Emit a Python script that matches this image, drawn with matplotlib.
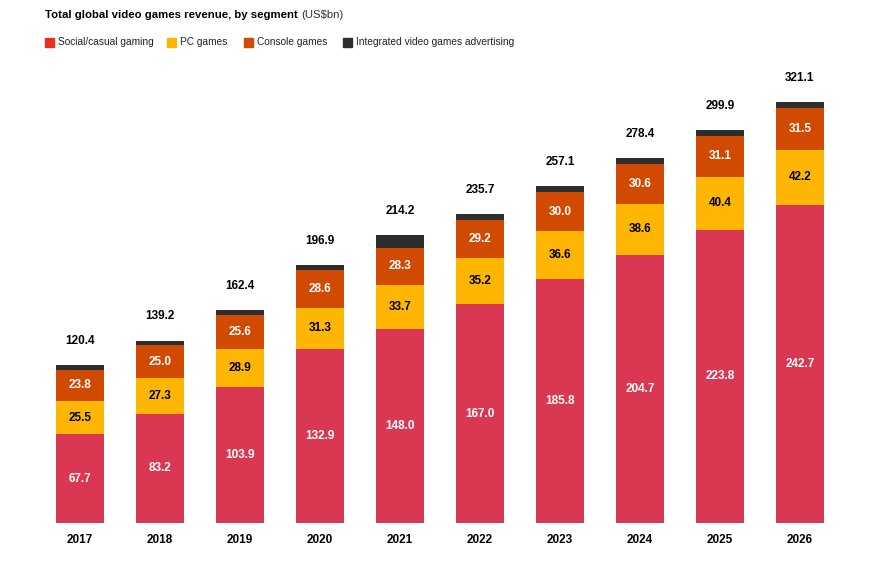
import numpy as np
import matplotlib.pyplot as plt
from matplotlib.patches import Rectangle

plt.rcParams['font.family'] = ['Liberation Sans', 'DejaVu Sans']

years = ['2017', '2018', '2019', '2020', '2021', '2022', '2023', '2024', '2025', '2026']
social = [67.7, 83.2, 103.9, 132.9, 148.0, 167.0, 185.8, 204.7, 223.8, 242.7]
pc = [25.5, 27.3, 28.9, 31.3, 33.7, 35.2, 36.6, 38.6, 40.4, 42.2]
console = [23.8, 25.0, 25.6, 28.6, 28.3, 29.2, 30.0, 30.6, 31.1, 31.5]
advertising = [3.4, 3.7, 4.0, 4.1, 9.7, 4.3, 4.7, 4.5, 4.6, 4.7]
totals = ['120.4', '139.2', '162.4', '196.9', '214.2', '235.7', '257.1', '278.4', '299.9', '321.1']

series_names = ['Social/casual gaming', 'PC games', 'Console games', 'Integrated video games advertising']
bar_colors = ['#DA3852', '#FFB600', '#D04A02', '#2D2D2D']
legend_colors = ['#E3331C', '#FFB600', '#D04A02', '#2D2D2D']

W, H = 872, 567
fig = plt.figure(figsize=(W / 100, H / 100), dpi=100)
ax = fig.add_axes([40 / W, 44 / H, 800 / W, 445.7 / H])

x = np.arange(len(years))
bottom = np.zeros(len(years))
stack = [social, pc, console, advertising]
for vals, col in zip(stack, bar_colors):
    ax.bar(x, vals, width=0.61, bottom=bottom, color=col, linewidth=0)
    bottom += np.array(vals)

# segment labels
b = np.zeros(len(years))
for vals, txtcol in zip(stack[:3], ['white', 'black', 'white']):
    for i, v in enumerate(vals):
        ax.text(x[i], b[i] + v / 2, f'{v:.1f}', ha='center', va='center',
                color=txtcol, fontsize=8.5, fontweight='bold')
    b += np.array(vals)

for i, t in enumerate(totals):
    ax.text(x[i], bottom[i] + 14, t, ha='center', va='bottom',
            color='black', fontsize=8.5, fontweight='bold')

ax.set_xlim(-0.5, 9.5)
ax.set_ylim(0, 340)
ax.set_xticks(x, labels=years)
ax.tick_params(axis='x', length=0, pad=8, labelsize=8.5)
for lab in ax.get_xticklabels():
    lab.set_fontweight('bold')
ax.set_yticks([])
for s in ax.spines.values():
    s.set_visible(False)

# title
t1 = fig.text(45 / W, 1 - 15 / H, 'Total global video games revenue, by segment',
              fontsize=8.2, fontweight='bold', va='center', ha='left')
fig.canvas.draw()
bb = t1.get_window_extent()
fig.text((bb.x1 + 3) / W, 1 - 15 / H, '(US$bn)', fontsize=8.2, color='#333333',
         va='center', ha='left')

# legend
sw_x = [45, 167, 244, 343]
for sx, name, col in zip(sw_x, series_names, legend_colors):
    fig.patches.append(Rectangle((sx / W, 1 - 46.5 / H), 8.5 / W, 8.5 / H,
                                 transform=fig.transFigure, color=col))
    fig.text((sx + 13) / W, 1 - 42 / H, name, fontsize=7.3, color='#222222',
             va='center', ha='left')

fig.savefig('out.png', dpi=100)
